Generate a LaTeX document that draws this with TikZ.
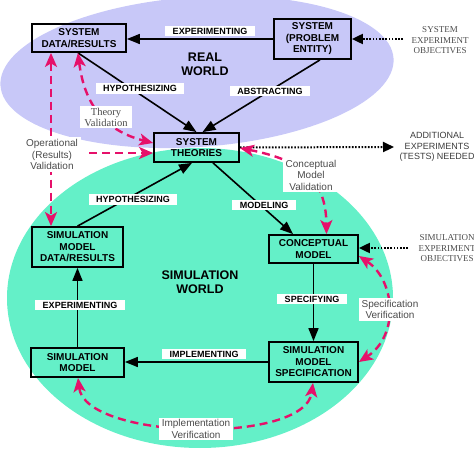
\documentclass[tikz,border=0pt]{standalone}
\usepackage{fontspec}
\setmainfont{Liberation Serif}
\setsansfont{Liberation Sans}
\usetikzlibrary{arrows.meta,calc}
\definecolor{lav}{RGB}{200,200,248}
\definecolor{aqua}{RGB}{100,240,200}
\definecolor{vpink}{RGB}{230,16,106}
\definecolor{txtgray}{RGB}{75,75,75}
\begin{document}
\begin{tikzpicture}[x=1pt,y=-1pt,
  box/.style={draw, line width=1.8pt, font=\sffamily\bfseries\fontsize{10}{11.5}\selectfont, align=center, inner sep=0pt},
  lab/.style={fill=white, font=\sffamily\bfseries\fontsize{9}{10}\selectfont, inner xsep=7.5pt, inner ysep=2pt},
  world/.style={font=\sffamily\bfseries\fontsize{12.5}{14}\selectfont, align=center},
  flow/.style={line width=1.6pt, -{Triangle[length=13pt,width=10pt]}},
  dotarr/.style={line width=2pt, dash pattern=on 1.6pt off 1.6pt, -{Triangle[length=11pt,width=10pt]}},
  pinkarr/.style={draw=vpink, line width=2.4pt, dash pattern=on 8pt off 5pt,
    {Stealth[length=14pt,width=12pt,inset=3.5pt]}-{Stealth[length=14pt,width=12pt,inset=3.5pt]}},
  pinkone/.style={draw=vpink, line width=2.4pt, dash pattern=on 8pt off 5pt,
    -{Stealth[length=14pt,width=12pt,inset=3.5pt]}},
  vsans/.style={fill=white, align=center, text=txtgray, font=\sffamily\fontsize{10}{11.5}\selectfont, inner xsep=3pt, inner ysep=2pt},
  vserif/.style={fill=white, align=center, text=txtgray, font=\rmfamily\fontsize{10.5}{11}\selectfont, inner xsep=4pt, inner ysep=2pt},
  objserif/.style={align=center, text=txtgray, font=\rmfamily\fontsize{9}{10.5}\selectfont, inner sep=0pt},
  objsans/.style={align=center, text=txtgray!80!black, font=\sffamily\fontsize{9}{10.3}\selectfont, inner sep=0pt}
]
\useasboundingbox (0,0) rectangle (474,457);
% worlds
\fill[lav, rotate around={4:(197,72)}] (197,72) ellipse [x radius=197, y radius=75];
\fill[aqua] (200,298) ellipse [x radius=193, y radius=150];
\node[world] (rw) at (205,64) {REAL\\WORLD};
\node[world] (sw) at (200,282) {SIMULATION\\WORLD};
% boxes
\node[box, minimum width=94pt, minimum height=28pt] (data) at (79,38) {SYSTEM\\DATA/RESULTS};
\node[box, minimum width=77pt, minimum height=40pt] (prob) at (312.5,39) {SYSTEM\\(PROBLEM\\ENTITY)};
\node[box, minimum width=85pt, minimum height=29pt] (th) at (196.5,147.5) {SYSTEM\\THEORIES};
\node[box, minimum width=91pt, minimum height=40pt] (sdata) at (77.5,247) {SIMULATION\\MODEL\\DATA/RESULTS};
\node[box, minimum width=89pt, minimum height=28pt] (conc) at (313.5,249) {CONCEPTUAL\\MODEL};
\node[box, minimum width=93pt, minimum height=29pt] (simm) at (77.5,362.5) {SIMULATION\\MODEL};
\node[box, minimum width=89pt, minimum height=40pt] (spec) at (313.5,362) {SIMULATION\\MODEL\\SPECIFICATION};
% black flows
\draw[flow] (prob.west) -- (prob.west -| data.east);
\draw[flow] ([xshift=-1pt]data.south) -- (th.north);
\draw[flow] ([xshift=7.5pt]prob.south) -- ([xshift=6pt]th.north);
\draw[flow] (sdata.north) -- ([xshift=-4.5pt]th.south);
\draw[flow] ([xshift=16.5pt]th.south) -- ([xshift=-20.5pt]conc.north);
\draw[flow] (conc.south) -- (spec.north);
\draw[flow] (spec.west) -- (spec.west -| simm.east);
\draw[flow] (simm.north) -- (sdata.south);
% flow labels
\node[lab] (l1) at (210,31) {EXPERIMENTING};
\node[lab] (l2) at (140,88.5) {HYPOTHESIZING};
\node[lab] (l3) at (270,91) {ABSTRACTING};
\node[lab] (l4) at (133,199.5) {HYPOTHESIZING};
\node[lab] (l5) at (264,205) {MODELING};
\node[lab] (l6) at (312,299) {SPECIFYING};
\node[lab] (l7) at (204,354) {IMPLEMENTING};
\node[lab] (l8) at (80,305) {EXPERIMENTING};
% objective texts and dotted arrows
\node[objserif] (sysobj) at (440,40.5) {SYSTEM\\EXPERIMENT\\OBJECTIVES};
\node[objsans] (addexp) at (437,147) {ADDITIONAL\\EXPERIMENTS\\(TESTS) NEEDED};
\node[objserif] (simobj) at (447,248.5) {SIMULATION\\EXPERIMENT\\OBJECTIVES};
\coordinate (so) at (403,39);
\coordinate (ae) at (394,147);
\coordinate (sm) at (408,248);
\draw[dotarr] (so) -- (so -| prob.east);
\draw[dotarr] (th.east) -- (ae);
\draw[dotarr] (sm) -- (sm -| conc.east);
% pink validation / verification arrows
\draw[pinkarr] ([xshift=-28pt]data.south) -- ([xshift=-26.5pt]sdata.north);
\coordinate (oph) at (89,153);
\draw[pinkone] (oph) -- (oph -| th.west);
\draw[pinkarr] ([xshift=-1pt]data.south) .. controls (85,110) and (110,132) .. ([yshift=4.5pt]th.west);
\draw[pinkarr] ([yshift=-0.5pt]th.east) .. controls (300,160) and (326,178) .. ([xshift=13pt]conc.north);
\draw[pinkarr] ([yshift=-7pt]conc.east) .. controls (395,280) and (400,335) .. (spec.east);
\draw[pinkarr] ([xshift=0.5pt]simm.south) .. controls (85,440) and (305,445) .. ([xshift=-0.5pt]spec.south);
% validation labels
\node[vsans] (oplab) at (52,154.5) {Operational\\(Results)\\Validation};
\node[vserif] (thlab) at (106,117) {Theory\\Validation};
\node[vsans] (cmlab) at (311,175) {Conceptual\\Model\\Validation};
\node[vsans] (svlab) at (390,309.5) {Specification\\Verification};
\node[vsans] (ivlab) at (196,429) {Implementation\\Verification};
\end{tikzpicture}
\end{document}
